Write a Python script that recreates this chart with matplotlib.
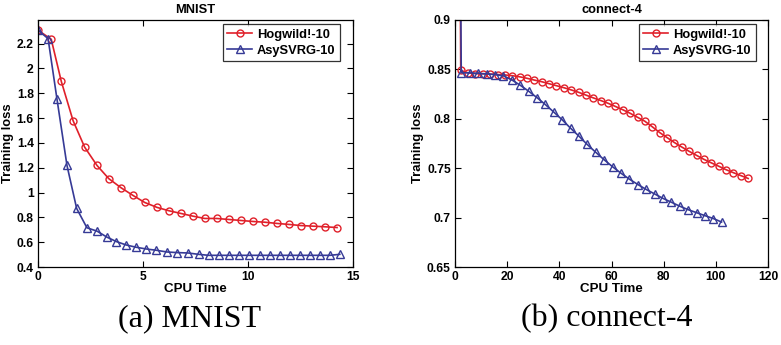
import matplotlib
matplotlib.use("Agg")
import matplotlib.pyplot as plt
from matplotlib.ticker import FuncFormatter

# ---------------- data ----------------
mnist_hog_x = [0.0, 0.63, 1.11, 1.67, 2.22, 2.81, 3.37, 3.95, 4.52, 5.08, 5.67, 6.24, 6.79,
               7.37, 7.94, 8.51, 9.08, 9.65, 10.22, 10.79, 11.38, 11.95, 12.52, 13.10, 13.67, 14.24]
mnist_hog_y = [2.308, 2.235, 1.895, 1.579, 1.366, 1.218, 1.112, 1.039, 0.977, 0.920, 0.880, 0.853,
               0.832, 0.810, 0.791, 0.791, 0.783, 0.775, 0.767, 0.761, 0.751, 0.743, 0.734, 0.729,
               0.724, 0.718]
mnist_asy_x = [0.0, 0.48, 0.90, 1.38, 1.84, 2.33, 2.81, 3.29, 3.73, 4.21, 4.68, 5.16, 5.63, 6.14,
               6.63, 7.14, 7.65, 8.13, 8.60, 9.10, 9.57, 10.05, 10.56, 11.03, 11.51, 11.98, 12.46,
               12.94, 13.41, 13.89, 14.37]
mnist_asy_y = [2.308, 2.240, 1.757, 1.218, 0.872, 0.716, 0.689, 0.640, 0.605, 0.577, 0.559, 0.545,
               0.535, 0.521, 0.516, 0.513, 0.502, 0.494, 0.494, 0.494, 0.494, 0.494, 0.494, 0.494,
               0.494, 0.494, 0.494, 0.494, 0.494, 0.494, 0.502]

c4_hog_x = [1.9, 2.2, 5.0, 7.8, 10.7, 13.5, 16.3, 19.1, 22.0, 24.8, 27.6, 30.4, 33.3, 36.1, 38.9,
            41.7, 44.6, 47.4, 50.2, 53.0, 55.9, 58.7, 61.5, 64.3, 67.2, 70.0, 72.8, 75.6, 78.5,
            81.3, 84.1, 86.9, 89.8, 92.6, 95.4, 98.2, 101.1, 103.9, 106.7, 109.6, 112.4]
c4_hog_y = [1.0, 0.849, 0.8465, 0.8458, 0.8455, 0.8452, 0.8448, 0.8444, 0.8436, 0.8425, 0.8410,
            0.8392, 0.8375, 0.8355, 0.8335, 0.8315, 0.8292, 0.8268, 0.8240, 0.8212, 0.8185,
            0.8157, 0.8125, 0.8092, 0.8055, 0.8015, 0.7975, 0.7920, 0.7860, 0.7810, 0.7760,
            0.7715, 0.7670, 0.7630, 0.7590, 0.7555, 0.7520, 0.7485, 0.7455, 0.7425, 0.7396]
c4_asy_x = [2.0, 2.4, 5.6, 8.8, 12.1, 15.3, 18.5, 21.7, 25.0, 28.2, 31.4, 34.6, 37.8, 41.1, 44.3,
            47.5, 50.7, 54.0, 57.2, 60.4, 63.6, 66.8, 70.1, 73.3, 76.5, 79.7, 83.0, 86.2, 89.4,
            92.6, 95.8, 99.1, 102.2]
c4_asy_y = [1.0, 0.8466, 0.8465, 0.8460, 0.8455, 0.8448, 0.8435, 0.8395, 0.8340, 0.8280, 0.8215,
            0.8145, 0.8070, 0.7990, 0.7905, 0.7825, 0.7740, 0.7660, 0.7585, 0.7515, 0.7450,
            0.7390, 0.7335, 0.7285, 0.7240, 0.7195, 0.7155, 0.7115, 0.7080, 0.7050, 0.7020,
            0.6990, 0.6955]

mnist_xticks = [0, 5, 10, 15]
mnist_yticks = [0.4, 0.6, 0.8, 1.0, 1.2, 1.4, 1.6, 1.8, 2.0, 2.2]
c4_xticks = [0, 20, 40, 60, 80, 100, 120]
c4_yticks = [0.65, 0.7, 0.75, 0.8, 0.85, 0.9]

series_labels = ["Hogwild!-10", "AsySVRG-10"]
titles = ["MNIST", "connect-4"]
captions = ["(a) MNIST", "(b) connect-4"]

# ---------------- style ----------------
RED = "#e0202a"
BLUE = "#363a96"
plt.rcParams["font.family"] = ["Liberation Sans", "DejaVu Sans"]
plt.rcParams["font.weight"] = "bold"

fig = plt.figure(figsize=(7.81, 3.45), dpi=100)
W, H = 781, 345

def px_axes(x0, x1, y0, y1):
    return fig.add_axes([x0 / W, 1 - y1 / H, (x1 - x0) / W, (y1 - y0) / H])

ax1 = px_axes(38, 353, 20, 267)
ax2 = px_axes(455, 768, 20, 267)

fmt = FuncFormatter(lambda v, p: ("%g" % round(v, 4)))

def style(ax, xlim, ylim, xt, yt, title):
    ax.set_xlim(*xlim)
    ax.set_ylim(*ylim)
    ax.set_xticks(xt)
    ax.set_yticks(yt)
    ax.xaxis.set_major_formatter(fmt)
    ax.yaxis.set_major_formatter(fmt)
    ax.tick_params(direction="in", top=True, right=True, length=4, width=0.8,
                   labelsize=8.7, pad=3)
    for lab in ax.get_xticklabels() + ax.get_yticklabels():
        lab.set_fontweight("bold")
    for s in ax.spines.values():
        s.set_linewidth(0.9)
    ax.set_xlabel("CPU Time", fontsize=9.6, fontweight="bold", labelpad=0)
    ax.set_ylabel("Training loss", fontsize=9.4, fontweight="bold", labelpad=2)
    ax.set_title(title, fontsize=9.3, fontweight="bold", pad=5)

def plot_pair(ax, hx, hy, axx, ay, legend_right_px):
    ax.plot(hx, hy, color=RED, lw=1.2, marker="o", ms=5, mfc="none", mec=RED, mew=1.0,
            label=series_labels[0])
    ax.plot(axx, ay, color=BLUE, lw=1.2, marker="^", ms=6, mfc="none", mec=BLUE, mew=1.0,
            label=series_labels[1])
    leg = ax.legend(loc="upper right", bbox_to_anchor=(legend_right_px / W, 1 - 24 / H),
                    bbox_transform=fig.transFigure, borderaxespad=0,
                    frameon=True, fancybox=False,
                    edgecolor="black", borderpad=0.35, handlelength=1.95, handletextpad=0.35,
                    labelspacing=0.32, prop={"weight": "bold", "size": 9.3})
    leg.get_frame().set_linewidth(0.9)

plot_pair(ax1, mnist_hog_x, mnist_hog_y, mnist_asy_x, mnist_asy_y, 340)
style(ax1, (0, 15), (0.4, 2.39), mnist_xticks, mnist_yticks, titles[0])

plot_pair(ax2, c4_hog_x, c4_hog_y, c4_asy_x, c4_asy_y, 756)
style(ax2, (0, 120), (0.65, 0.9), c4_xticks, c4_yticks, titles[1])

fig.text(190 / W, 1 - 319 / H, captions[0], ha="center", va="center",
         fontsize=23, family=["Liberation Serif", "DejaVu Serif"], fontweight="normal")
fig.text(607 / W, 1 - 319 / H, captions[1], ha="center", va="center",
         fontsize=23, family=["Liberation Serif", "DejaVu Serif"], fontweight="normal")

fig.savefig("out.png", dpi=100)
